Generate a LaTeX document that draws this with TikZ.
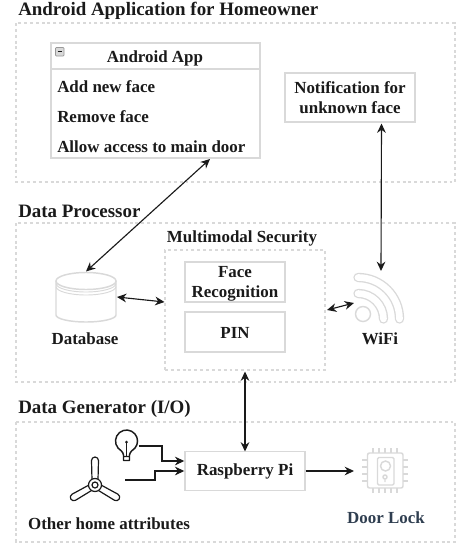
\documentclass[tikz,border=0pt]{standalone}
\usepackage{fontspec}
\setmainfont{Liberation Serif}
\usetikzlibrary{arrows.meta}
\definecolor{lg}{HTML}{D9D9D9}
\definecolor{ink}{HTML}{1A1A1A}
\definecolor{slate}{HTML}{2F3E50}
\tikzset{
 group/.style={draw=lg,line width=0.8pt,dash pattern=on 2.2pt off 2.2pt},
 box/.style={draw=lg,line width=1.1pt,fill=white,inner sep=0pt},
 icon/.style={draw=lg,line width=1.1pt},
 darkicon/.style={draw=ink,line width=0.9pt},
 lbl/.style={font=\fontsize{12.7pt}{15pt}\selectfont\bfseries,text=ink,inner sep=0pt,align=center},
 ttl/.style={font=\fontsize{14.2pt}{15pt}\selectfont\bfseries,text=ink,inner sep=0pt,anchor=west},
 link/.style={draw=ink,line width=0.85pt,-{Stealth[length=7pt,width=6.5pt]}},
 dlink/.style={draw=ink,line width=0.85pt,{Stealth[length=7pt,width=6.5pt]}-{Stealth[length=7pt,width=6.5pt]}},
 blade/.style={darkicon,line join=round,fill=white}
}
\newcommand{\wifiband}[1]{%
 \draw[draw=lg,line width=7pt,line cap=round] (358,319-#1) arc[start angle=270,end angle=360,radius=#1];
 \draw[draw=white,line width=5pt,line cap=round] (358,319-#1) arc[start angle=270,end angle=360,radius=#1];
}
\begin{document}
\begin{tikzpicture}[x=0.75pt,y=-0.75pt]
\useasboundingbox (0,0) rectangle (474,546);
% groups
\node[ttl] (t1) at (18,10.5) {Android Application for Homeowner};
\node[ttl] (t2) at (18,211) {Data Processor};
\node[ttl] (t3) at (18,409) {Data Generator (I/O)};
\draw[group] (16,23) rectangle (455,182);
\draw[group] (16,223) rectangle (455,382);
\draw[group] (16,422) rectangle (455,542);
% Android box
\node[box,minimum width=157pt,minimum height=86.25pt] (app) at (155.5,100.5) {};
\draw[draw=lg,line width=1.1pt] (51,69) -- (260,69);
\node[lbl] (apptitle) at (155,58) {Android App};
\node[lbl,anchor=west] (a1) at (57,86.5) {Add new face};
\node[lbl,anchor=west] (a2) at (57,116.5) {Remove face};
\node[lbl,anchor=west] (a3) at (57,146.5) {Allow access to main door};
\draw[draw=gray!80,fill=gray!30,line width=.5pt,rounded corners=.7pt] (55.5,47.5) rectangle (64,56);
\draw[draw=ink,line width=.7pt] (57.5,51.7) -- (62,51.7);
% notification
\node[box,minimum width=97.5pt,minimum height=37pt,lbl] (notif) at (350,97.5) {Notification for\\unknown face};
% multimodal
\node[lbl] (mmt) at (242,238) {Multimodal Security};
\node[group,draw,minimum width=120pt,minimum height=90pt,inner sep=0pt] (mm) at (245,310) {};
\node[box,minimum width=75pt,minimum height=30pt] (facebox) at (235,282) {};
\node[lbl] (face) at (235,283.5) {Face\\Recognition};
\node[box,minimum width=75pt,minimum height=30pt] (pinbox) at (235,332) {};
\node[lbl] (pin) at (235,332.5) {PIN};
% database
\draw[icon,fill=white] (56,281) -- (56,315) arc[start angle=180,end angle=0,x radius=30,y radius=7] -- (116,281);
\draw[icon] (86,281) ellipse[x radius=30,y radius=8.5];
\draw[icon,line width=.7pt] (56,283.5) arc[start angle=180,end angle=0,x radius=30,y radius=8.5];
\draw[icon,line width=.7pt] (56,286.5) arc[start angle=180,end angle=0,x radius=30,y radius=8.5];
\node[lbl] (dbl) at (85,339) {Database};
\coordinate (dbtop) at (86,271.5);
\coordinate (dbright) at (117,297);
\coordinate (mmleft) at (164.5,302);
% wifi
\draw[icon] (363,314) circle[radius=7.5];
\wifiband{41.5}
\wifiband{25.5}
\node[lbl] (wl) at (380,339) {WiFi};
\coordinate (wifitop) at (381,271);
\coordinate (wifileft) at (354,303);
\coordinate (mmright) at (327,310);
% raspberry
\node[box,minimum width=90pt,minimum height=29pt,lbl] (pi) at (245,471) {Raspberry Pi};
% lamp
\draw[darkicon,line width=1.1pt,line join=round] (123.5,455) .. controls (123,451) and (119.5,450) .. (118.1,448.1) arc[start angle=140,end angle=400,radius=11] .. controls (133.5,450) and (130,451) .. (129.5,455) -- (129.5,460.5) -- (123.5,460.5) -- cycle (123.5,456.5) -- (129.5,456.5);
\draw[darkicon] (126.5,456) -- (126.5,442);
\fill[ink] (126.5,442) circle[radius=1.5];
\coordinate (lamp) at (139,446);
\coordinate (fan) at (125,480);
% fan
\begin{scope}[shift={(95,485)}]
\foreach \a in {0,120,240}{
 \draw[blade,rotate=\a] (-3,-5) -- (-3.5,-24.5) arc[start angle=180,end angle=360,radius=3.5] -- (3,-5);
}
\draw[darkicon,fill=white] (0,0) circle[radius=6.5];
\draw[darkicon] (0,0) circle[radius=3];
\end{scope}
\node[lbl] (other) at (109,524) {Other home attributes};
% door lock
\draw[icon,rounded corners=1.5pt] (367.5,453) rectangle (403,488);
\draw[icon,rounded corners=1pt] (377.5,457.5) rectangle (394,485);
\draw[icon] (385.5,466) circle[radius=5];
\draw[icon] (385,477) circle[radius=2] (385,479) -- (385,482);
\foreach \x in {373,379,385,391,397}{\draw[icon,line width=.8pt] (\x,448) -- (\x,453) (\x,488) -- (\x,493);}
\foreach \y in {460,467,474,481}{\draw[icon,line width=.8pt] (362,\y) -- (367.5,\y) (403,\y) -- (408,\y);}
\coordinate (lock) at (354,471);
\node[lbl,text=slate] (dl) at (386,518) {Door Lock};
% connectors
\coordinate (appb) at (210,159);
\coordinate (nb) at (381.5,123.5);
\coordinate (mb) at (245,371.5);
\coordinate (pt) at (245,451.5);
\draw[dlink] (appb) -- (dbtop);
\draw[dlink] (nb) -- (wifitop);
\draw[dlink] (dbright) -- (mmleft);
\draw[dlink] (mmright) -- (wifileft);
\draw[dlink] (mb) -- (pt);
\draw[link] (lamp) -- ++(23,0) |- (pi.west |- 0,461);
\draw[link] (fan) -- ++(30,0) |- (pi.west |- 0,471);
\draw[link] (pi.east) -- (lock);
\end{tikzpicture}
\end{document}
